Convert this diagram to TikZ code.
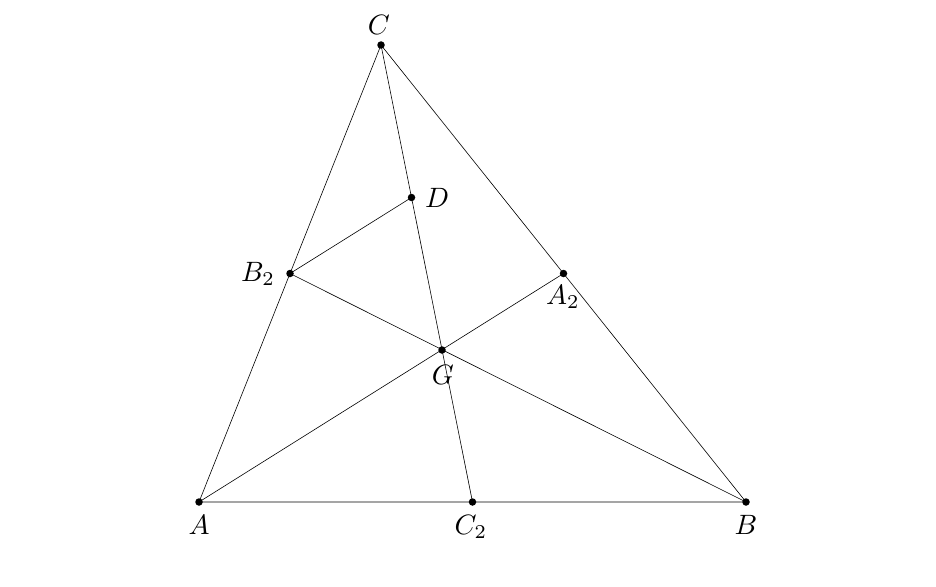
\documentclass[tikz,border=0pt]{standalone}
\begin{document}
\begin{tikzpicture}[x=1pt,y=-1pt,line width=0.6pt,
  pt/.style={circle,fill=black,inner sep=0pt,minimum size=7.5pt},
  lab/.style={scale=2.8}]
\useasboundingbox (0,0) rectangle (936,586);
\node[pt] (A) at (199,502) {};
\node[pt] (B) at (746,502) {};
\node[pt] (C) at (381,45) {};
\node[pt] (C2) at (472.5,502) {};
\node[pt] (A2) at (563.5,273.5) {};
\node[pt] (B2) at (290,273.5) {};
\node[pt] (G) at (442,350) {};
\node[pt] (D) at (411.5,197.5) {};
\draw (A.center) -- (B.center) -- (C.center) -- cycle;
\draw (C.center) -- (C2.center);
\draw (A.center) -- (A2.center);
\draw (B.center) -- (B2.center);
\draw (B2.center) -- (D.center);
\node[lab] at (379,25) {$C$};
\node[lab] at (437,198) {$D$};
\node[lab] at (258,274) {$B_2$};
\node[lab] at (563,297) {$A_2$};
\node[lab] at (443,375) {$G$};
\node[lab] at (199,525) {$A$};
\node[lab] at (471,527) {$C_2$};
\node[lab] at (746,525) {$B$};
\end{tikzpicture}
\end{document}
